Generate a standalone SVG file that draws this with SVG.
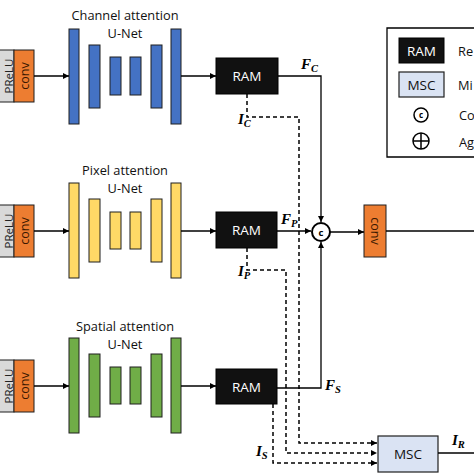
<svg xmlns="http://www.w3.org/2000/svg" width="474" height="474" viewBox="0 0 474 474">
<defs>
<style>
.t{font-family:"Open Sans","DejaVu Sans",sans-serif;font-size:12.8px;fill:#111}
.w{font-family:"Open Sans","DejaVu Sans",sans-serif;font-size:13.5px;fill:#fff}
.cv{font-family:"Open Sans","DejaVu Sans",sans-serif;font-size:12.5px;fill:#3a1800}
.pr{font-family:"Open Sans","DejaVu Sans",sans-serif;font-size:11.5px;fill:#222}
.m{font-family:"Liberation Serif","DejaVu Serif",serif;font-style:italic;font-weight:bold;font-size:15px;fill:#000}
.s{font-size:10.5px}
.b{fill:#4472C4;stroke:#1f1f1f;stroke-width:1}
.y{fill:#FFD966;stroke:#1f1f1f;stroke-width:1}
.g{fill:#70AD47;stroke:#1f1f1f;stroke-width:1}
.o{fill:#ED7D31;stroke:#1f1f1f;stroke-width:1}
.p{fill:#D9D9D9;stroke:#1f1f1f;stroke-width:1}
.ram{fill:#111;stroke:#000;stroke-width:1}
.msc{fill:#DAE3F3;stroke:#1f1f1f;stroke-width:1.2}
.ln{fill:none;stroke:#000;stroke-width:1.3}
.ds{fill:none;stroke:#000;stroke-width:1.5;stroke-dasharray:4 3}
</style>
<marker id="ah" viewBox="0 0 10 10" refX="10" refY="5" markerWidth="6" markerHeight="6" orient="auto" markerUnits="userSpaceOnUse">
<path d="M0,0 L10,5 L0,10 z" fill="#000"/>
</marker>
</defs>
<rect width="474" height="474" fill="#fff"/>

<g id="row1">
<rect class="p" x="-5" y="50" width="19" height="52"/>
<text class="pr" transform="translate(12.5,76) rotate(-90)" text-anchor="middle">PReLU</text>
<rect class="o" x="14" y="50" width="20" height="52"/>
<text class="cv" transform="translate(28.5,76) rotate(-90)" text-anchor="middle">conv</text>
<text class="t" x="125" y="20" text-anchor="middle">Channel attention</text>
<text class="t" x="125" y="38" text-anchor="middle">U-Net</text>
<rect class="b" x="69" y="29" width="10" height="95"/>
<rect class="b" x="89" y="45" width="11" height="63"/>
<rect class="b" x="110" y="57" width="11" height="38"/>
<rect class="b" x="130" y="57" width="11" height="38"/>
<rect class="b" x="151" y="45" width="11" height="63"/>
<rect class="b" x="171" y="29" width="10" height="95"/>
</g>
<g id="ram1">
<rect class="ram" x="216" y="58" width="62" height="36"/>
<text class="w" x="247" y="81" text-anchor="middle">RAM</text>
</g>

<g id="row2">
<rect class="p" x="-5" y="205" width="19" height="52"/>
<text class="pr" transform="translate(12.5,231) rotate(-90)" text-anchor="middle">PReLU</text>
<rect class="o" x="14" y="205" width="20" height="52"/>
<text class="cv" transform="translate(28.5,231) rotate(-90)" text-anchor="middle">conv</text>
<text class="t" x="125" y="175" text-anchor="middle">Pixel attention</text>
<text class="t" x="125" y="193" text-anchor="middle">U-Net</text>
<rect class="y" x="69" y="183" width="10" height="95"/>
<rect class="y" x="89" y="199" width="11" height="63"/>
<rect class="y" x="110" y="212" width="11" height="37"/>
<rect class="y" x="130" y="212" width="11" height="37"/>
<rect class="y" x="151" y="199" width="11" height="63"/>
<rect class="y" x="171" y="183" width="10" height="95"/>
</g>
<g id="ram2">
<rect class="ram" x="216" y="212" width="61" height="36"/>
<text class="w" x="246.5" y="235" text-anchor="middle">RAM</text>
</g>

<g id="row3">
<rect class="p" x="-5" y="360" width="19" height="52"/>
<text class="pr" transform="translate(12.5,386) rotate(-90)" text-anchor="middle">PReLU</text>
<rect class="o" x="14" y="360" width="20" height="52"/>
<text class="cv" transform="translate(28.5,386) rotate(-90)" text-anchor="middle">conv</text>
<text class="t" x="125" y="331" text-anchor="middle">Spatial attention</text>
<text class="t" x="125" y="349" text-anchor="middle">U-Net</text>
<rect class="g" x="69" y="338" width="10" height="95"/>
<rect class="g" x="89" y="354" width="11" height="63"/>
<rect class="g" x="110" y="367" width="11" height="37"/>
<rect class="g" x="130" y="367" width="11" height="37"/>
<rect class="g" x="151" y="354" width="11" height="63"/>
<rect class="g" x="171" y="338" width="10" height="95"/>
</g>
<g id="ram3">
<rect class="ram" x="216" y="369" width="61" height="35"/>
<text class="w" x="246.5" y="391.5" text-anchor="middle">RAM</text>
</g>

<g id="concat">
<circle cx="321" cy="232" r="9" fill="#fff" stroke="#000" stroke-width="2"/>
<text x="321" y="235.5" text-anchor="middle" font-family="'Open Sans','DejaVu Sans',sans-serif" font-size="9.5" font-weight="bold">c</text>
</g>
<g id="conv-out">
<rect class="o" x="364" y="205" width="22" height="52"/>
<text class="cv" transform="translate(370.5,231) rotate(90)" text-anchor="middle">conv</text>
</g>
<g id="msc">
<rect class="msc" x="378" y="436" width="60" height="36"/>
<text x="408" y="459" text-anchor="middle" font-family="'Open Sans','DejaVu Sans',sans-serif" font-size="13.5" fill="#111">MSC</text>
</g>

<g id="connectors">
<path class="ln" d="M34,76 H69" marker-end="url(#ah)"/>
<path class="ln" d="M181,76 H216" marker-end="url(#ah)"/>
<path class="ln" d="M34,231 H69" marker-end="url(#ah)"/>
<path class="ln" d="M181,231 H216" marker-end="url(#ah)"/>
<path class="ln" d="M34,386 H69" marker-end="url(#ah)"/>
<path class="ln" d="M181,386 H216" marker-end="url(#ah)"/>
<path class="ln" d="M278,76 H321 V222" marker-end="url(#ah)"/>
<path class="ln" d="M277,231 H311" marker-end="url(#ah)"/>
<path class="ln" d="M277,388 H321 V242" marker-end="url(#ah)"/>
<path class="ln" d="M330,232 H364" marker-end="url(#ah)"/>
<path class="ln" d="M386,231 H474"/>
<path class="ln" d="M438,453 H474"/>
<path class="ds" d="M247,94 V117 H299 V443 H377" marker-end="url(#ah)"/>
<path class="ds" d="M247,248 V270 H286 V453 H377" marker-end="url(#ah)"/>
<path class="ds" d="M273,404 V463 H377" marker-end="url(#ah)"/>
</g>

<g id="labels">
<text class="m" x="301" y="69">F<tspan class="s" dy="3">C</tspan></text>
<text class="m" x="238" y="124">I<tspan class="s" dy="3">C</tspan></text>
<text class="m" x="281" y="224">F<tspan class="s" dy="3">P</tspan></text>
<text class="m" x="238" y="276">I<tspan class="s" dy="3">P</tspan></text>
<text class="m" x="325" y="390">F<tspan class="s" dy="3">S</tspan></text>
<text class="m" x="256" y="456">I<tspan class="s" dy="3">S</tspan></text>
<text class="m" x="452" y="445">I<tspan class="s" dy="3">R</tspan></text>
</g>

<g id="legend">
<path d="M476,28 H387 V157 H476" fill="none" stroke="#000" stroke-width="1.3"/>
<rect class="ram" x="399" y="38" width="45" height="25"/>
<text class="w" x="421.5" y="55.5" text-anchor="middle">RAM</text>
<rect class="msc" x="399" y="72" width="45" height="25"/>
<text x="421.5" y="89.5" text-anchor="middle" font-family="'Open Sans','DejaVu Sans',sans-serif" font-size="13.5" fill="#111">MSC</text>
<circle cx="421" cy="115" r="7" fill="#fff" stroke="#000" stroke-width="1.5"/>
<text x="421" y="118" text-anchor="middle" font-family="'Open Sans','DejaVu Sans',sans-serif" font-size="8" font-weight="bold">c</text>
<circle cx="421" cy="141" r="8" fill="#fff" stroke="#000" stroke-width="1.5"/>
<path d="M413,141 H429 M421,133 V149" stroke="#000" stroke-width="1.5"/>
<text class="t" x="458" y="56">Re</text>
<text class="t" x="458" y="90">Mi</text>
<text class="t" x="459" y="120">Co</text>
<text class="t" x="459" y="147">Ag</text>
</g>
</svg>
